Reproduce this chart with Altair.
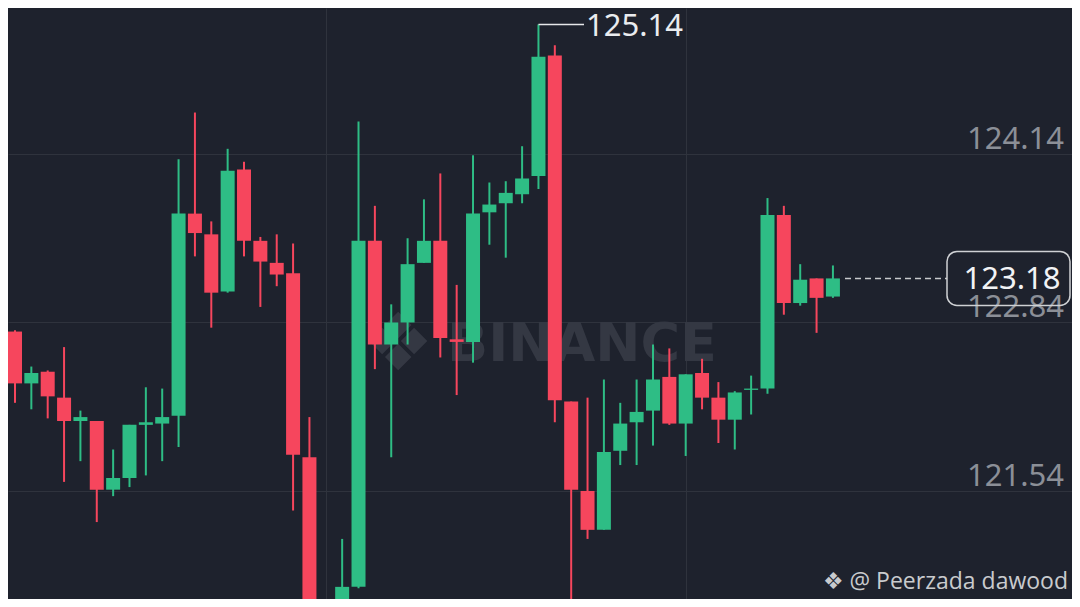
import altair as alt
import pandas as pd

# ---- data ----
idx = [0, 1, 2, 3, 4, 5, 6, 7, 8, 9, 10, 11, 12, 13, 14, 15, 16, 17, 18,
       20, 21, 22, 23, 24, 25, 26, 27, 28, 29, 30, 31, 32, 33, 34, 35, 36, 37,
       38, 39, 40, 41, 42, 43, 44, 45, 46, 47, 48, 49, 50]
open_ = [122.77, 122.37, 122.46, 122.26, 122.08, 122.08, 121.55, 121.64, 122.05, 122.06,
         122.12, 123.68, 123.52, 123.08, 124.02, 123.47, 123.30, 123.22, 121.80,
         120.35, 120.80, 123.47, 122.67, 122.84, 123.30, 123.47, 122.71, 122.69, 123.69,
         123.76, 123.83, 123.97, 124.90, 122.23, 121.54, 121.24, 121.85, 122.07, 122.16,
         122.42, 122.06, 122.45, 122.26, 122.09, 122.32, 122.33, 123.67, 122.99, 123.18,
         123.04]
high = [122.78, 122.50, 122.47, 122.65, 122.16, 122.08, 121.86, 122.05, 122.34, 122.33,
        124.10, 124.46, 123.62, 124.18, 124.08, 123.50, 123.52, 123.45, 122.11,
        121.17, 124.39, 123.74, 122.98, 123.49, 123.79, 123.99, 123.13, 124.13, 123.92,
        123.93, 124.20, 125.14, 124.98, 122.23, 122.26, 122.40, 122.22, 122.40, 122.67,
        122.64, 122.44, 122.56, 122.38, 122.31, 122.43, 123.80, 123.74, 123.29, 123.18,
        123.28]
low = [122.22, 122.17, 122.10, 121.61, 121.77, 121.30, 121.50, 121.57, 121.66, 121.77,
       121.88, 123.35, 122.80, 123.07, 123.35, 122.96, 123.12, 121.39, 120.30,
       120.30, 120.79, 122.48, 121.80, 122.67, 123.30, 122.57, 122.28, 122.53, 123.44,
       123.34, 123.76, 123.87, 122.07, 120.50, 121.17, 121.24, 121.74, 121.74, 121.89,
       122.05, 121.81, 122.17, 121.91, 121.86, 122.13, 122.29, 122.90, 122.97, 122.76,
       123.03]
close = [122.37, 122.45, 122.27, 122.08, 122.11, 121.55, 121.64, 122.05, 122.07, 122.11,
         123.68, 123.53, 123.07, 124.01, 123.47, 123.31, 123.21, 121.82, 120.45,
         120.80, 123.47, 122.67, 122.84, 123.29, 123.47, 122.72, 122.69, 123.68, 123.75,
         123.84, 123.95, 124.89, 122.24, 121.55, 121.24, 121.84, 122.06, 122.15, 122.40,
         122.06, 122.44, 122.26, 122.09, 122.30, 122.33, 123.67, 122.99, 123.17, 123.03,
         123.18]

grid_levels = [124.14, 122.84, 121.54]
grid_labels = ["124.14", "122.84", "121.54"]
vgrid_idx = [19, 41]
max_idx = [32]
max_price = [125.14]
max_label = ["125.14"]
last_price = [123.18]
last_label = ["123.18"]

BG = "#1e222d"
GRID = "#2f333d"
GREEN = "#2ebd85"
RED = "#f6465d"
FONT = "Noto Sans"

df = pd.DataFrame({"idx": idx, "open": open_, "high": high, "low": low, "close": close})

W, H = 1064, 591
xscale = alt.Scale(domain=[-0.1211, 64.309], nice=False, zero=False)
yscale = alt.Scale(domain=[120.7064, 125.2665], nice=False, zero=False)

color = alt.condition(alt.datum.close >= alt.datum.open, alt.value(GREEN), alt.value(RED))

xenc = alt.X("idx:Q", scale=xscale,
             axis=alt.Axis(values=vgrid_idx, grid=True, gridColor=GRID, gridWidth=1,
                           labels=False, ticks=False, domain=False, title=None))

# watermark
wm_text = alt.Chart(pd.DataFrame({"t": ["BINANCE"]})).mark_text(
    font="DejaVu Sans", fontWeight="bold", fontSize=54, color="#343843",
    align="center", baseline="middle"
).encode(x=alt.value(574), y=alt.value(337), text="t:N")
wm_logo = alt.Chart(pd.DataFrame({"t": ["❖"]})).mark_text(
    font="DejaVu Sans", fontSize=80, color="#343843",
    align="center", baseline="middle"
).encode(x=alt.value(390), y=alt.value(338), text="t:N")

# horizontal grid lines (via axis)
hgrid = alt.Chart(pd.DataFrame({"level": grid_levels})).mark_rule(opacity=0).encode(
    y=alt.Y("level:Q", scale=yscale,
            axis=alt.Axis(values=grid_levels, grid=True, gridColor=GRID, gridWidth=1,
                          labels=False, ticks=False, domain=False, title=None)),
)

wicks = alt.Chart(df).mark_rule(strokeWidth=2, clip=True).encode(
    x=xenc,
    y=alt.Y("low:Q", scale=yscale),
    y2="high:Q",
    color=color,
)
bodies = alt.Chart(df).mark_bar(size=14, clip=True).encode(
    x="idx:Q",
    y=alt.Y("open:Q", scale=yscale),
    y2="close:Q",
    color=color,
)

# price level labels
lvl = alt.Chart(pd.DataFrame({"level": grid_levels, "label": grid_labels})).mark_text(
    font=FONT, fontSize=31, color="#8b8f97", align="right", baseline="alphabetic", dy=-5
).encode(x=alt.value(1056), y=alt.Y("level:Q", scale=yscale), text="label:N")

# max marker
mdf = pd.DataFrame({"idx": max_idx, "price": max_price, "label": max_label})
max_line = alt.Chart(mdf).mark_rule(color="#e6e8ea", strokeWidth=1.5).encode(
    x="idx:Q", x2=alt.value(576), y=alt.Y("price:Q", scale=yscale))
max_text = alt.Chart(mdf).mark_text(
    font=FONT, fontSize=31, color="#eaecef", align="left", baseline="alphabetic", dy=12
).encode(x=alt.value(578), y=alt.Y("price:Q", scale=yscale), text="label:N")

# last price marker
ldf = pd.DataFrame({"price": last_price, "label": last_label})
last_line = alt.Chart(ldf).mark_rule(color="#c8cacd", strokeWidth=1.5, strokeDash=[6, 4]).encode(
    x=alt.value(837), x2=alt.value(939), y=alt.Y("price:Q", scale=yscale))
last_box = alt.Chart(ldf).mark_rect(
    fill=BG, fillOpacity=0.0, stroke="#cfd1d4", strokeWidth=1.5, cornerRadius=10,
    yOffset=-27, y2Offset=27
).encode(x=alt.value(939), x2=alt.value(1062),
         y=alt.Y("price:Q", scale=yscale), y2="price:Q")
last_text = alt.Chart(ldf).mark_text(
    font=FONT, fontSize=31, color="#f2f3f5", align="center", baseline="alphabetic", dy=11
).encode(x=alt.value(1004), y=alt.Y("price:Q", scale=yscale), text="label:N")

credit = alt.Chart(pd.DataFrame({"t": ["❖ @ Peerzada dawood"]})).mark_text(
    font="Open Sans", fontSize=23, color="#c9cbce", align="right", baseline="alphabetic"
).encode(x=alt.value(1060), y=alt.value(581), text="t:N")

chart = alt.layer(
    hgrid, wm_text, wm_logo, wicks, bodies, lvl, max_line, max_text,
    last_line, last_box, last_text, credit
).properties(
    width=W, height=H, background=BG, padding=0,
    autosize=alt.AutoSizeParams(type="none")
).configure_view(strokeWidth=0)

chart.save("out.html", embed_options={"renderer": "svg", "actions": False})
